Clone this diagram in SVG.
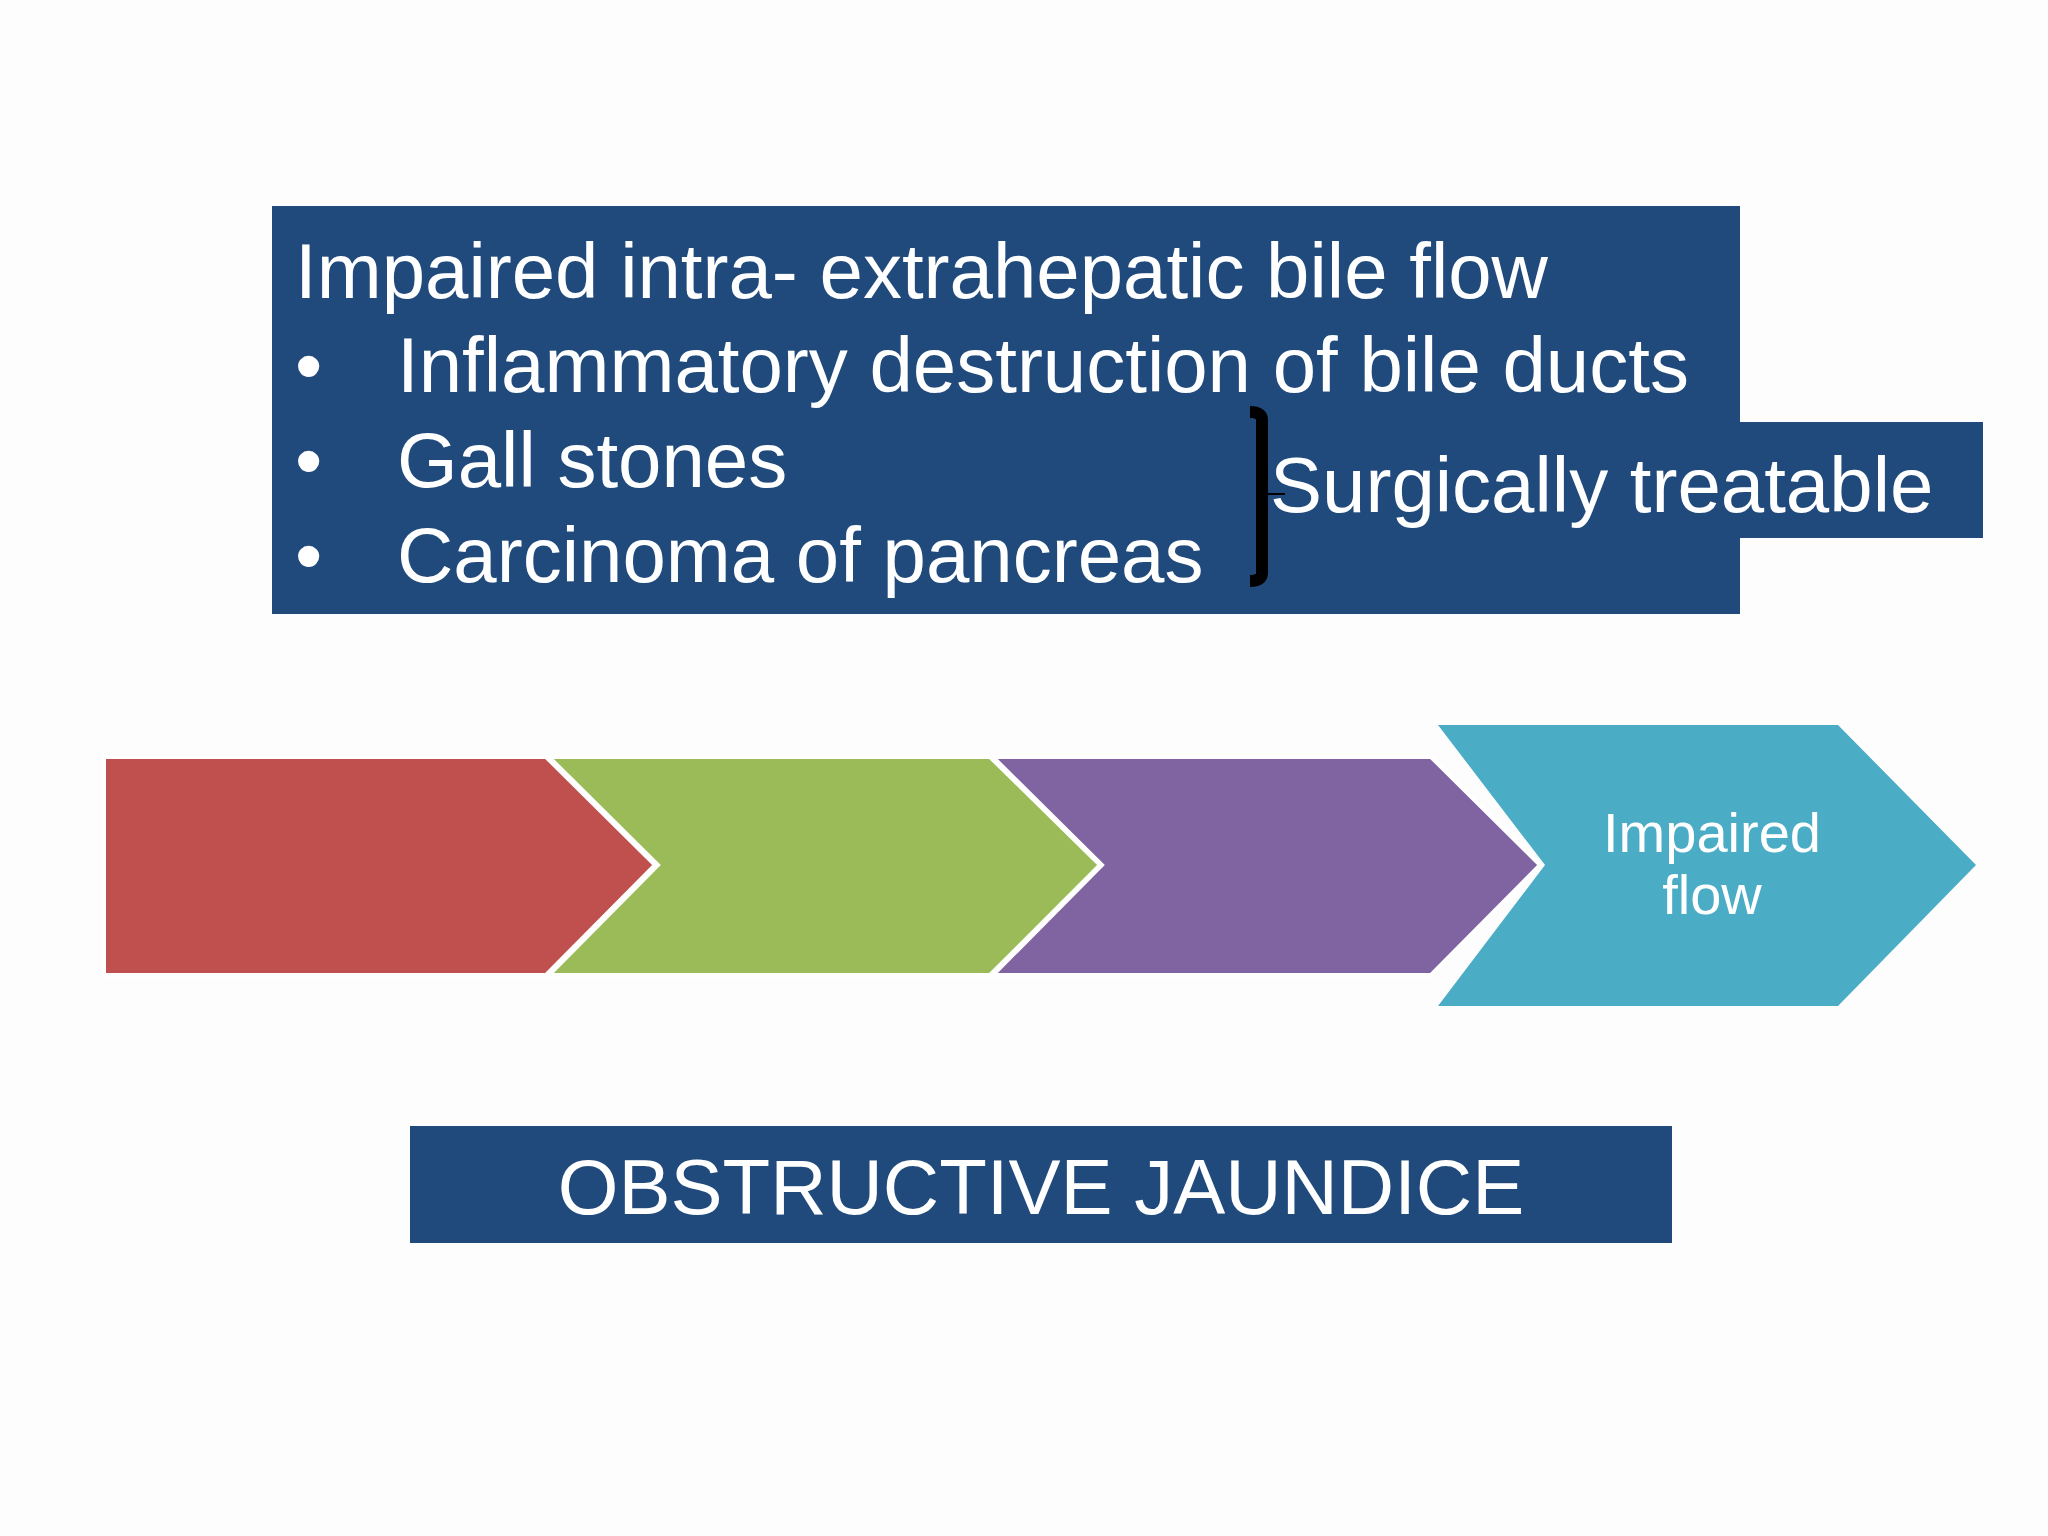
<svg xmlns="http://www.w3.org/2000/svg" width="2048" height="1536" viewBox="0 0 2048 1536">
<style>
.box{fill:#214a7c}
.t{font-family:"Liberation Sans",Arial,sans-serif;fill:#fff}
.chev{stroke:#fff;stroke-width:4}
</style>
<rect width="2048" height="1536" fill="#fdfdfd"/>
<g id="causes">
<rect class="box" x="272" y="206" width="1468" height="408"/>
<text class="t" font-size="78" x="295" y="298">Impaired intra- extrahepatic bile flow</text>
<text class="t" font-size="78" x="295" y="392">•</text><text class="t" font-size="78" x="397" y="392">Inflammatory destruction of bile ducts</text>
<text class="t" font-size="78" x="295" y="487">•</text><text class="t" font-size="78" x="397" y="487">Gall stones</text>
<text class="t" font-size="78" x="295" y="582">•</text><text class="t" font-size="78" x="397" y="582">Carcinoma of pancreas</text>
</g>
<g id="surgical">
<rect class="box" x="1262" y="422" width="721" height="116"/>
<text class="t" font-size="78" x="1270" y="512">Surgically treatable</text>
</g>
<g id="connectors">
<path d="M1250 412 Q1262 412 1262 420 L1262 573 Q1262 581 1250 581" fill="none" stroke="#000" stroke-width="12"/>
<line x1="1262" y1="494" x2="1285" y2="494" stroke="#000" stroke-width="2"/>
</g>
<g id="chev1"><polygon class="chev" fill="#C0504D" points="104,757 546,757 655,865 546,975 104,975"/></g>
<g id="chev2"><polygon class="chev" fill="#9BBB59" points="549,757 990,757 1100,865 990,975 549,975 658,865"/></g>
<g id="chev3"><polygon class="chev" fill="#8064A2" points="993,757 1431,757 1540,865 1431,975 993,975 1102,865"/></g>
<g id="chev4"><polygon fill="#4BACC6" points="1438,725 1838,725 1976,865 1838,1006 1438,1006 1545,865"/>
<text class="t" font-size="56" x="1712" y="852" text-anchor="middle">Impaired</text>
<text class="t" font-size="56" x="1712" y="914" text-anchor="middle">flow</text></g>
<g id="title">
<rect class="box" x="410" y="1126" width="1262" height="117"/>
<text class="t" font-size="78" x="1041" y="1214" text-anchor="middle">OBSTRUCTIVE JAUNDICE</text>
</g>
</svg>
